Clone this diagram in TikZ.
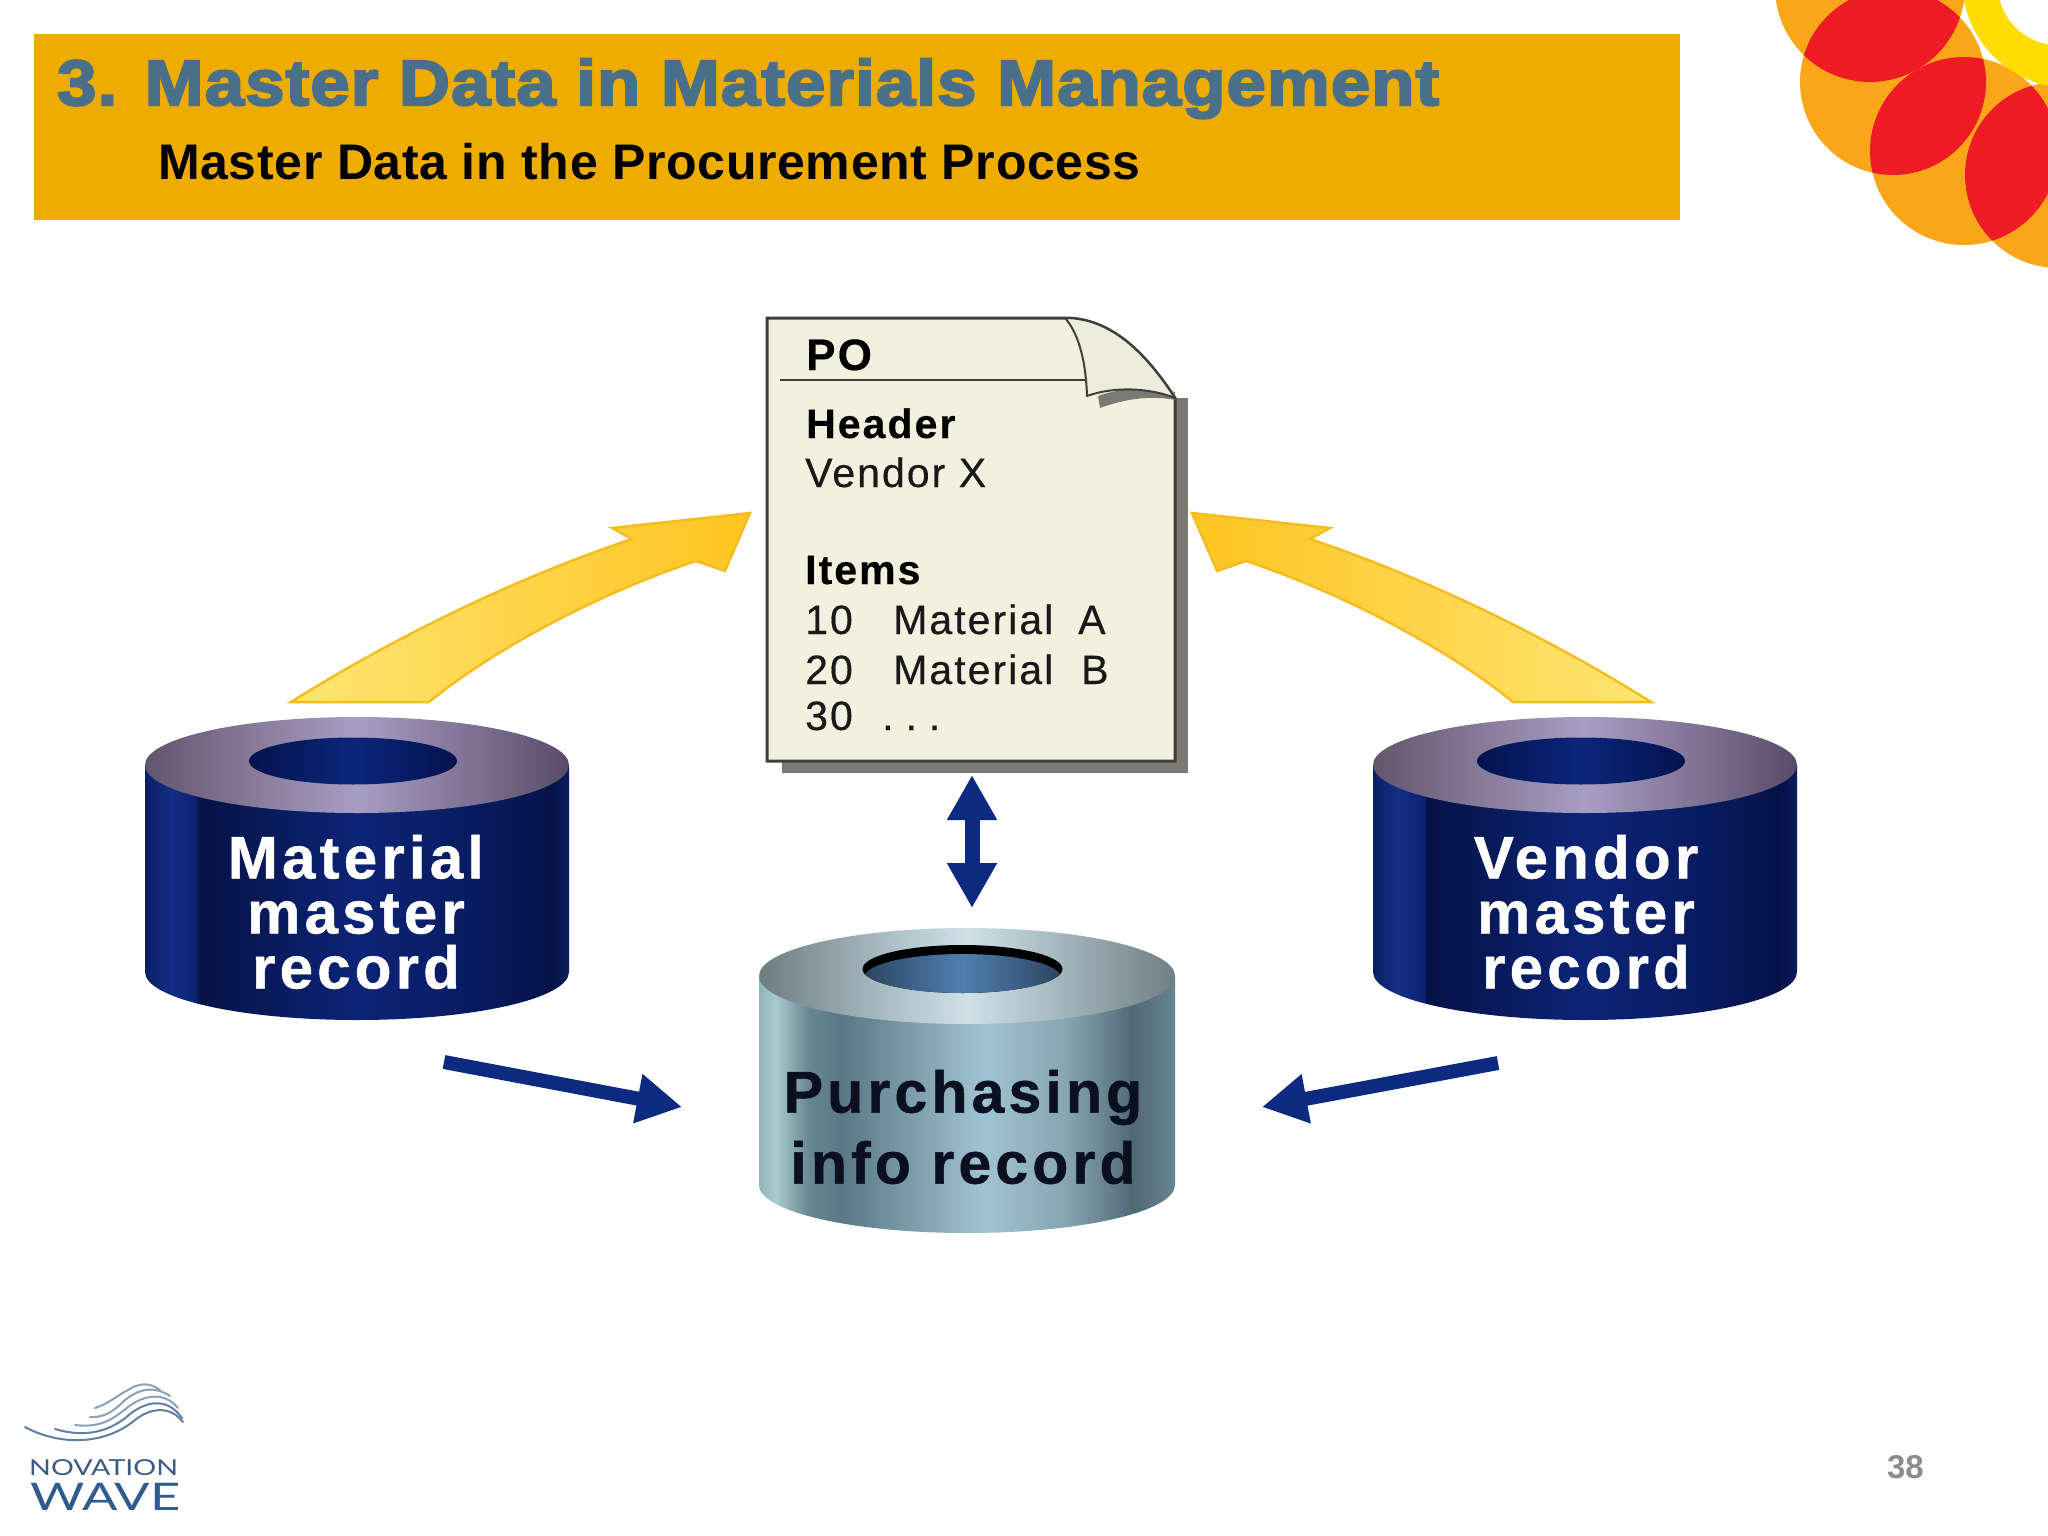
\documentclass[tikz,border=0pt]{standalone}
\usepackage{fontspec}
\setmainfont{Liberation Sans}
\usetikzlibrary{arrows.meta}
\newfontfamily\titlefont[FakeBold=3.5,FakeStretch=1.1,LetterSpace=2]{Liberation Sans}
\newfontfamily\subfont[LetterSpace=1.3]{Liberation Sans}
\newfontfamily\spacedfont[LetterSpace=5,FakeBold=0.4]{Liberation Sans}
\newfontfamily\drumfont[LetterSpace=7,FakeBold=0.8]{Liberation Sans}
\newfontfamily\logofont[FakeStretch=1.3]{Lato}
\newfontfamily\logowide[FakeStretch=1.38]{Lato}
\definecolor{sba}{RGB}{10,30,100}
\definecolor{sbb}{RGB}{20,46,135}
\definecolor{sbc}{RGB}{12,34,112}
\definecolor{sbd}{RGB}{5,18,70}
\definecolor{sbe}{RGB}{12,36,118}
\definecolor{sbf}{RGB}{8,26,94}
\definecolor{sbg}{RGB}{5,18,72}
\definecolor{sbh}{RGB}{10,28,92}
\definecolor{tba}{RGB}{98,86,108}
\definecolor{tbb}{RGB}{168,158,196}
\definecolor{tbc}{RGB}{88,76,104}
\definecolor{hba}{RGB}{5,18,78}
\definecolor{hbb}{RGB}{10,38,122}
\definecolor{sga}{RGB}{143,180,184}
\definecolor{sgb}{RGB}{168,203,207}
\definecolor{sgc}{RGB}{105,135,146}
\definecolor{sgd}{RGB}{90,120,133}
\definecolor{sge}{RGB}{160,195,211}
\definecolor{sgf}{RGB}{135,165,177}
\definecolor{sgg}{RGB}{80,106,116}
\definecolor{sgh}{RGB}{104,133,143}
\definecolor{tga}{RGB}{110,124,130}
\definecolor{tgb}{RGB}{169,188,195}
\definecolor{tgc}{RGB}{208,226,232}
\definecolor{tgd}{RGB}{168,187,194}
\definecolor{tge}{RGB}{112,127,133}
\definecolor{hga}{RGB}{44,69,96}
\definecolor{hgb}{RGB}{79,127,176}
\pgfdeclarehorizontalshading{sideblue}{100bp}{
 color(0bp)=(sba); color(25bp)=(sba);
 color(28bp)=(sbb);
 color(31bp)=(sbc);
 color(31.3bp)=(sbd);
 color(50bp)=(sbe);
 color(65bp)=(sbf);
 color(73bp)=(sbg);
 color(75bp)=(sbh); color(100bp)=(sbh)}
\pgfdeclarehorizontalshading{topblue}{100bp}{
 color(0bp)=(tba); color(25bp)=(tba);
 color(50bp)=(tbb);
 color(75bp)=(tbc); color(100bp)=(tbc)}
\pgfdeclarehorizontalshading{holeblue}{100bp}{
 color(0bp)=(hba); color(25bp)=(hba);
 color(50bp)=(hbb);
 color(75bp)=(hba); color(100bp)=(hba)}
\pgfdeclarehorizontalshading{sidegrey}{100bp}{
 color(0bp)=(sga); color(25bp)=(sga);
 color(27bp)=(sgb);
 color(31bp)=(sgc);
 color(35bp)=(sgd);
 color(52bp)=(sge);
 color(62bp)=(sgf);
 color(70bp)=(sgg);
 color(75bp)=(sgh); color(100bp)=(sgh)}
\pgfdeclarehorizontalshading{topgrey}{100bp}{
 color(0bp)=(tga); color(25bp)=(tga);
 color(40bp)=(tgb);
 color(50bp)=(tgc);
 color(60bp)=(tgd);
 color(75bp)=(tge); color(100bp)=(tge)}
\pgfdeclarehorizontalshading{holegrey}{100bp}{
 color(0bp)=(hga); color(25bp)=(hga);
 color(50bp)=(hgb);
 color(75bp)=(hga); color(100bp)=(hga)}
\definecolor{bannerc}{HTML}{EFAC00}
\definecolor{titlec}{HTML}{4A7089}
\definecolor{navyc}{HTML}{0B2A80}
\definecolor{paperc}{HTML}{F2F1DF}
\definecolor{foldc}{HTML}{ECEDDF}
\definecolor{edgec}{HTML}{3F3F3A}
\definecolor{shadowc}{HTML}{7A7A72}
\definecolor{orangec}{HTML}{F9A61A}
\definecolor{redc}{HTML}{ED1C24}
\definecolor{yellowc}{HTML}{FFDD00}
\definecolor{arrowedge}{HTML}{F4BE22}
\definecolor{arrowdeep}{HTML}{FDC520}
\definecolor{arrowpale}{HTML}{FFE573}
\definecolor{pagec}{HTML}{8C8C8C}
\definecolor{logoa}{HTML}{3D5A80}
\definecolor{logob}{HTML}{2F5B8F}
\definecolor{wavea}{HTML}{5D7FA8}
\definecolor{waveb}{HTML}{8AA0BB}
\definecolor{inkc}{HTML}{0A1020}
\tikzset{
 fatblue/.style={draw=navyc,line width=14pt,-{Triangle[length=45pt,width=47pt]}},
 fatboth/.style={draw=navyc,line width=15pt,{Triangle[length=45pt,width=47pt]}-{Triangle[length=45pt,width=47pt]}},
 yarrow/.style={draw=arrowedge,line width=2.5pt,line join=miter},
 potext/.style={anchor=base west,inner sep=0pt,font=\spacedfont\fontsize{41}{41}\selectfont,text=black!90},
 potextb/.style={potext,text=black,font=\spacedfont\bfseries\fontsize{41}{41}\selectfont},
 drumlabel/.style={align=center,inner sep=0pt,text=white,font=\drumfont\bfseries\fontsize{60}{55}\selectfont},
 infolabel/.style={align=center,inner sep=0pt,text=inkc,font=\drumfont\bfseries\fontsize{59}{71}\selectfont},
 wavelines/.style={line width=2pt,line cap=round}
}
\newcommand{\bluedrum}{
 \shade[shading=sideblue] (145,765) -- (145,972) arc[start angle=180,end angle=0,x radius=212,y radius=48] -- (569,765) -- cycle;
 \shade[shading=topblue] (357,765) ellipse[x radius=212,y radius=48];
 \shade[shading=holeblue] (353,761) ellipse[x radius=104,y radius=23.5];
}
\begin{document}
\begin{tikzpicture}[x=1pt,y=-1pt]
\useasboundingbox (0,0) rectangle (2048,1536);
\fill[white] (0,0) rectangle (2048,1536);
% corner flower
\begin{scope}
\clip (0,0) rectangle (2048,1536);
\fill[orangec] (1870,-13) circle[radius=95];
\fill[orangec] (1893,82) circle[radius=93];
\fill[orangec] (1964,151) circle[radius=94];
\fill[orangec] (2058,175) circle[radius=93];
\begin{scope}\clip (1870,-13) circle[radius=95];\fill[redc] (1893,82) circle[radius=93];\end{scope}
\begin{scope}\clip (1893,82) circle[radius=93];\fill[redc] (1964,151) circle[radius=94];\end{scope}
\begin{scope}\clip (1964,151) circle[radius=94];\fill[redc] (2058,175) circle[radius=93];\end{scope}
\fill[yellowc] (2070,-20) circle[radius=108];
\fill[white] (2058,-15) circle[radius=60];
\end{scope}
% banner
\fill[bannerc] (34,34) rectangle (1680,220);
\node[anchor=base west,inner sep=0pt,text=titlec,font=\titlefont\bfseries\fontsize{64}{64}\selectfont] (title) at (57,105) {3. Master Data in Materials Management};
\node[anchor=base west,inner sep=0pt,text=black,font=\subfont\bfseries\fontsize{50}{50}\selectfont] (subtitle) at (158,179) {Master Data in the Procurement Process};
% purchase order sheet
\fill[shadowc] (782,398) -- (1188,398) -- (1188,773) -- (782,773) -- cycle;
\fill[paperc,draw=edgec,line width=3pt] (767,318) -- (1065,318) .. controls (1115,318) and (1150,360) .. (1175,398) -- (1175,761) -- (767,761) -- cycle;
\fill[shadowc] (1100,408) .. controls (1130,397) and (1155,396) .. (1175,400) -- (1175,392) .. controls (1150,386) and (1120,388) .. (1098,396) -- cycle;
\draw[edgec,line width=2.5pt] (780,380) -- (1085,380);
\fill[foldc,draw=edgec,line width=2pt,line join=round] (1065,318) .. controls (1080,335) and (1086,365) .. (1087,396) .. controls (1115,386) and (1150,388) .. (1175,398) .. controls (1150,360) and (1115,318) .. (1065,318) -- cycle;
\node[potextb,font=\spacedfont\bfseries\fontsize{44}{44}\selectfont] (potitle) at (806,370) {PO};
\node[potextb] (poheader) at (806,438) {Header};
\node[potext] (povendor) at (805,487) {Vendor X};
\node[potextb] (poitems) at (805,584) {Items};
\node[potext] (p10) at (805,634) {10};
\node[potext] (p10m) at (893,634) {Material};
\node[potext] (p10a) at (1078,634) {A};
\node[potext] (p20) at (805,684) {20};
\node[potext] (p20m) at (893,684) {Material};
\node[potext] (p20b) at (1081,684) {B};
\node[potext] (p30) at (805,730) {30};
\node[potext] (pdots) at (882,730) {.\hspace{12pt}.\hspace{12pt}.};
% yellow arrows
\coordinate (leftTip) at (750,513);
\coordinate (rightTip) at (1192,513);
\filldraw[yarrow,left color=arrowpale,right color=arrowdeep] (291,702) -- (429,702) .. controls (480,660) and (580,600) .. (696,561) -- (725,571) -- (leftTip) -- (612,528) -- (632,539) .. controls (510,580) and (390,640) .. (291,702) -- cycle;
\filldraw[yarrow,left color=arrowdeep,right color=arrowpale] (1651,702) -- (1513,702) .. controls (1462,660) and (1362,600) .. (1246,561) -- (1217,571) -- (rightTip) -- (1330,528) -- (1310,539) .. controls (1432,580) and (1552,640) .. (1651,702) -- cycle;
% drums
\bluedrum
\begin{scope}[shift={(1228,0)}]\bluedrum\end{scope}
\node[drumlabel] (matlabel) at (356,912) {Material\\master\\record};
\node[drumlabel] (venlabel) at (1586,912) {Vendor\\master\\record};
\shade[shading=sidegrey] (759,976) -- (759,1185) arc[start angle=180,end angle=0,x radius=208,y radius=48] -- (1175,976) -- cycle;
\shade[shading=topgrey] (967,976) ellipse[x radius=208,y radius=48];
\fill[black] (962.5,969) ellipse[x radius=100,y radius=24];
\begin{scope}
\clip (962.5,969) ellipse[x radius=100,y radius=24];
\shade[shading=holegrey] (962.5,977) ellipse[x radius=98,y radius=23];
\end{scope}
\node[infolabel] (infolabel) at (963,1127) {Purchasing\\info record};
% blue connectors
\coordinate (matStart) at (444,1062);
\coordinate (matEnd) at (682,1107);
\coordinate (venStart) at (1498,1063);
\coordinate (venEnd) at (1262,1107);
\coordinate (poEnd) at (972,775);
\coordinate (infoEnd) at (972,908);
\draw[fatblue] (matStart) -- (matEnd);
\draw[fatblue] (venStart) -- (venEnd);
\draw[fatboth] (poEnd) -- (infoEnd);
% page number
\node[anchor=base east,inner sep=0pt,text=pagec,font=\bfseries\fontsize{33}{33}\selectfont] (page) at (1924,1478) {38};
% company mark
\draw[wavelines,wavea] (25,1427) .. controls (60,1446) and (105,1445) .. (135,1420) .. controls (150,1408) and (170,1405) .. (183,1422);
\draw[wavelines,wavea] (55,1429) .. controls (85,1438) and (110,1432) .. (130,1414) .. controls (148,1400) and (168,1398) .. (182,1418);
\draw[wavelines,waveb] (75,1425) .. controls (100,1428) and (112,1420) .. (128,1407) .. controls (145,1394) and (165,1392) .. (178,1408);
\draw[wavelines,waveb] (90,1417) .. controls (105,1418) and (115,1410) .. (125,1400) .. controls (140,1388) and (155,1386) .. (170,1396);
\draw[wavelines,waveb] (95,1408) .. controls (108,1404) and (118,1395) .. (128,1390) .. controls (138,1383) and (150,1382) .. (160,1390);
\node[anchor=base west,inner sep=0pt,text=logoa,font=\logofont\fontsize{22}{22}\selectfont] (novation) at (29,1475) {NOVATION};
\node[anchor=base west,inner sep=0pt,text=logob,font=\logowide\fontsize{38}{38}\selectfont] (wave) at (30,1510) {WAVE};
\end{tikzpicture}
\end{document}
